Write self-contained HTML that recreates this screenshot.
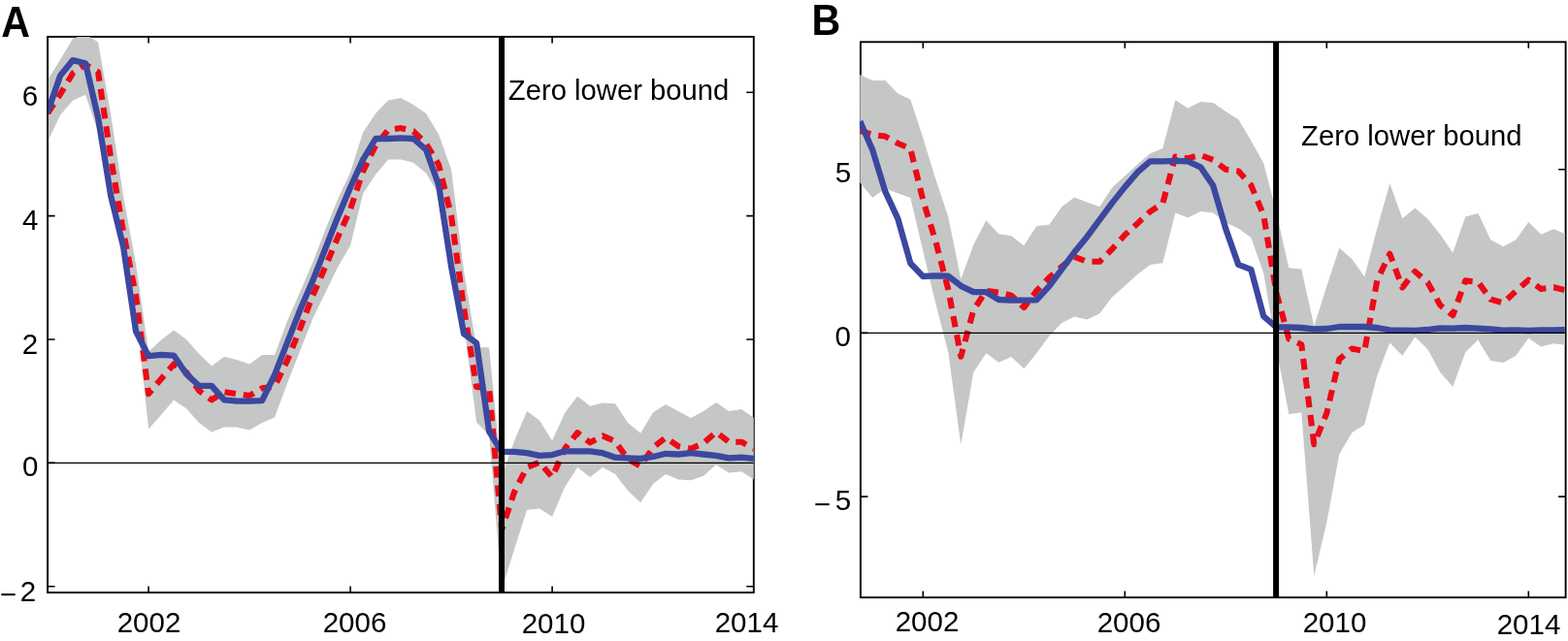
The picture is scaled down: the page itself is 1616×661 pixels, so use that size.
<!DOCTYPE html>
<html><head><meta charset="utf-8"><title>Figure</title>
<style>html,body{margin:0;padding:0;background:#fff;}body{width:1616px;height:661px;overflow:hidden;}svg{display:block;}</style>
</head><body>
<svg width="1616" height="661" viewBox="0 0 1616 661">
<defs><clipPath id="ca"><rect x="49.9" y="37.9" width="726.9" height="573.1"/></clipPath><clipPath id="cb"><rect x="885.9" y="43.3" width="726.9" height="572.8"/></clipPath></defs>
<rect width="1616" height="661" fill="#fff"/>
<rect x="49.1" y="37.9" width="727.7" height="573.1" fill="none" stroke="#000" stroke-width="1.9"/>
<path d="M49.1 604.8h7.5M776.8 604.8h-7.5M49.1 477.4h7.5M776.8 477.4h-7.5M49.1 350h7.5M776.8 350h-7.5M49.1 222.6h7.5M776.8 222.6h-7.5M49.1 95.2h7.5M776.8 95.2h-7.5M153.1 611v-6.5M153.1 37.9v6.5M361.1 611v-6.5M361.1 37.9v6.5M569.1 611v-6.5M569.1 37.9v6.5" stroke="#000" stroke-width="1.6" fill="none"/>
<g clip-path="url(#ca)">
<polygon points="49.1,82.5 62.1,61.4 75.1,39.8 88.1,35.3 101.1,43.6 114.1,117.5 127.1,202.2 140.1,272.3 153.1,362.7 166.1,350.6 179.1,340.4 192.1,350 205.1,364.7 218.1,377.4 231.1,367.8 244.1,371 257.1,375.5 270.1,365.9 283.1,365.9 296.1,330.9 309.1,301.6 322.1,271 335.1,237.3 348.1,205.4 361.1,177.4 374.1,136.6 387.1,116.9 400.1,103.5 413.1,100.9 426.1,107.9 439.1,116.9 452.1,138.5 465.1,174.8 478.1,279.9 491.1,358.3 504.1,358.3 517.1,491.4 530.1,454.5 543.1,423.9 556.1,433.4 569.1,454.5 582.1,425.8 595.1,408.6 608.1,418.8 621.1,415.6 634.1,416.2 647.1,436 660.1,446.8 673.1,425.2 686.1,416.9 699.1,423.9 712.1,430.9 725.1,423.9 738.1,415 751.1,423.9 764.1,422 777.1,430.9 777.1,494.6 764.1,486.3 751.1,487.6 738.1,479.3 725.1,490.8 712.1,495.2 699.1,494.6 686.1,488.9 673.1,499.1 660.1,518.2 647.1,506.1 634.1,488.9 621.1,481.9 608.1,492.1 595.1,481.9 582.1,502.2 569.1,532.8 556.1,524.5 543.1,525.8 530.1,566.6 517.1,608 504.1,448.7 491.1,435.4 478.1,334.7 465.1,270.4 452.1,200.3 439.1,178.6 426.1,167.8 413.1,164.6 400.1,164.6 387.1,179.9 374.1,199.7 361.1,253.2 348.1,275.5 335.1,302.2 322.1,329 309.1,362.1 296.1,395.2 283.1,430.3 270.1,436 257.1,443.6 244.1,440.5 231.1,440.5 218.1,445.5 205.1,436 192.1,421.3 179.1,412.4 166.1,427.7 153.1,442.4 140.1,319.4 127.1,251.3 114.1,193.9 101.1,136 88.1,97.7 75.1,103.5 62.1,118.8 49.1,146.2" fill="#c5c7c6"/>
<polyline points="49.1,116.9 62.1,97.1 75.1,75.5 88.1,66.5 101.1,74.2 114.1,162.1 127.1,239.2 140.1,305.4 153.1,406.1 166.1,390.8 179.1,375.5 192.1,383.8 205.1,402.9 218.1,412.4 231.1,404.1 244.1,406.1 257.1,408 270.1,400.3 283.1,398.4 296.1,371.7 309.1,339.2 322.1,305.4 335.1,275.5 348.1,244.9 361.1,215.6 374.1,176.7 387.1,150 400.1,134.1 413.1,132.1 426.1,135.3 439.1,148.1 452.1,169.7 465.1,222.6 478.1,318.1 491.1,399 504.1,400.3 517.1,546.2 530.1,507.3 543.1,481.9 556.1,476.8 569.1,492.1 582.1,462.7 595.1,446.2 608.1,456.4 621.1,449.4 634.1,455.1 647.1,473.6 660.1,480.6 673.1,461.5 686.1,451.3 699.1,460.2 712.1,462.7 725.1,457 738.1,445.5 751.1,455.7 764.1,455.7 777.1,462.7" fill="none" stroke="#ec0a17" stroke-width="6.1" stroke-dasharray="11.5 8" stroke-linejoin="round"/>
<polyline points="49.1,115.6 62.1,78 75.1,62.1 88.1,65.3 101.1,121.3 114.1,201.6 127.1,254.4 140.1,341.7 153.1,367.2 166.1,365.9 179.1,366.6 192.1,385.7 205.1,397.8 218.1,397.8 231.1,412.4 244.1,413.7 257.1,413.7 270.1,413.1 283.1,386.3 296.1,353.2 309.1,320.1 322.1,290.1 335.1,257 348.1,223.9 361.1,193.3 374.1,164.6 387.1,143 400.1,143 413.1,142.3 426.1,143 439.1,154.4 452.1,190.7 465.1,274.8 478.1,344.3 491.1,353.8 504.1,444.9 517.1,465.9 530.1,465.9 543.1,467.2 556.1,469.8 569.1,469.1 582.1,465.3 595.1,465.3 608.1,465.3 621.1,467.2 634.1,471.7 647.1,472.3 660.1,472.9 673.1,471 686.1,467.8 699.1,468.5 712.1,467.2 725.1,468.5 738.1,469.8 751.1,472.3 764.1,471.7 777.1,472.9" fill="none" stroke="#3c479f" stroke-width="6.3" stroke-linejoin="round"/>
<path d="M49.1 477.4H776.8" stroke="#000" stroke-width="1.1"/>
</g>
<rect x="514" y="37.9" width="6" height="573.1" fill="#000"/>
<rect x="886.9" y="43.3" width="726.7" height="572.8" fill="none" stroke="#000" stroke-width="1.9"/>
<path d="M886.9 512.1h7.5M1613.6 512.1h-7.5M886.9 343.4h7.5M1613.6 343.4h-7.5M886.9 174.7h7.5M1613.6 174.7h-7.5M951.3 616.1v-6.5M951.3 43.3v6.5M1159.3 616.1v-6.5M1159.3 43.3v6.5M1367.3 616.1v-6.5M1367.3 43.3v6.5M1575.3 616.1v-6.5M1575.3 43.3v6.5" stroke="#000" stroke-width="1.6" fill="none"/>
<g clip-path="url(#cb)">
<polygon points="886.3,76.9 899.3,82.9 912.3,82.9 925.3,96.4 938.3,102.5 951.3,142.3 964.3,184.8 977.3,223.6 990.3,287.7 1003.3,252.6 1016.3,227.3 1029.3,241.2 1042.3,243.2 1055.3,253.3 1068.3,233.1 1081.3,231.7 1094.3,213.2 1107.3,203.4 1120.3,208.4 1133.3,213.2 1146.3,193.3 1159.3,181.4 1172.3,169.6 1185.3,158.2 1198.3,153.1 1211.3,103.2 1224.3,111.6 1237.3,104.9 1250.3,105.9 1263.3,115 1276.3,123.1 1289.3,145 1302.3,168.3 1315.3,218.6 1328.3,276.3 1341.3,277.6 1354.3,336.3 1367.3,295.2 1380.3,255.7 1393.3,267.1 1406.3,285.4 1419.3,235.4 1432.3,189.2 1445.3,225.3 1458.3,214.5 1471.3,225.6 1484.3,241.8 1497.3,260.7 1510.3,223.6 1523.3,219.9 1536.3,247.2 1549.3,254.3 1562.3,247.2 1575.3,229 1588.3,241.8 1601.3,236.1 1614.3,241.8 1614.3,355.9 1601.3,354.2 1588.3,357.6 1575.3,348.8 1562.3,366.7 1549.3,374.1 1536.3,372.1 1523.3,350.5 1510.3,363.3 1497.3,398.7 1484.3,383.9 1471.3,359.9 1458.3,347.4 1445.3,366.7 1432.3,353.5 1419.3,387.3 1406.3,437.9 1393.3,446.3 1380.3,468.2 1367.3,539.1 1354.3,593.8 1341.3,425.4 1328.3,427.1 1315.3,358.6 1302.3,281.7 1289.3,244.9 1276.3,235.4 1263.3,229.7 1250.3,219.6 1237.3,217.9 1224.3,224.6 1211.3,219.6 1198.3,271.2 1185.3,272.9 1172.3,283 1159.3,294.8 1146.3,306.3 1133.3,323.2 1120.3,329.6 1107.3,326.5 1094.3,332.9 1081.3,346.4 1068.3,364.3 1055.3,380.2 1042.3,368 1029.3,373.8 1016.3,364.3 1003.3,383.9 990.3,458.8 977.3,363.6 964.3,313 951.3,259 938.3,204.1 925.3,199.3 912.3,194.6 899.3,204.1 886.3,188.2" fill="#c5c7c6"/>
<polyline points="886.3,134.9 899.3,138.9 912.3,140.6 925.3,147.7 938.3,153.4 951.3,206.4 964.3,248.9 977.3,298.5 990.3,367.7 1003.3,319.8 1016.3,299.9 1029.3,301.6 1042.3,304.6 1055.3,317.1 1068.3,299.9 1081.3,286.4 1094.3,274.9 1107.3,264.8 1120.3,269.8 1133.3,269.8 1146.3,256.7 1159.3,242.2 1172.3,230.4 1185.3,218.2 1198.3,209.8 1211.3,161.5 1224.3,163.2 1237.3,159.9 1250.3,164.9 1263.3,174.7 1276.3,176.4 1289.3,190.9 1302.3,221.9 1315.3,301.2 1328.3,349.5 1341.3,355.2 1354.3,458.1 1367.3,426.1 1380.3,370.4 1393.3,359.6 1406.3,362 1419.3,289.1 1432.3,261.7 1445.3,296.5 1458.3,280 1471.3,291.1 1484.3,314.7 1497.3,325.2 1510.3,289.4 1523.3,290.8 1536.3,308.6 1549.3,312.4 1562.3,300.2 1575.3,288.7 1588.3,297.9 1601.3,296.2 1614.3,299.5" fill="none" stroke="#ec0a17" stroke-width="6.1" stroke-dasharray="11.5 8" stroke-linejoin="round"/>
<polyline points="886.3,125.1 899.3,154.8 912.3,197.3 925.3,225.3 938.3,271.5 951.3,285 964.3,284.4 977.3,284.7 990.3,294.8 1003.3,301.2 1016.3,301.2 1029.3,309 1042.3,309.7 1055.3,309.7 1068.3,309.3 1081.3,295.2 1094.3,277.6 1107.3,260.1 1120.3,244.2 1133.3,226.7 1146.3,209.1 1159.3,192.9 1172.3,177.7 1185.3,166.3 1198.3,166.3 1211.3,165.9 1224.3,166.3 1237.3,172.3 1250.3,191.6 1263.3,236.1 1276.3,272.9 1289.3,277.9 1302.3,326.2 1315.3,337.3 1328.3,337.3 1341.3,338 1354.3,339.4 1367.3,339 1380.3,337 1393.3,337 1406.3,337 1419.3,338 1432.3,340.4 1445.3,340.7 1458.3,341 1471.3,340 1484.3,338.3 1497.3,338.7 1510.3,338 1523.3,338.7 1536.3,339.4 1549.3,340.7 1562.3,340.4 1575.3,341 1588.3,340.4 1601.3,340.4 1614.3,340" fill="none" stroke="#3c479f" stroke-width="6.3" stroke-linejoin="round"/>
<path d="M886.9 343.4H1613.6" stroke="#000" stroke-width="1.1"/>
</g>
<rect x="1312.1" y="43.3" width="6" height="572.8" fill="#000"/>
<g font-family="Liberation Sans, Arial, Helvetica, sans-serif" font-size="29.5" fill="#000">
<text x="22.7" y="109.4">6</text>
<text x="22.9" y="236.7">4</text>
<text x="22.7" y="364.7">2</text>
<text x="22.9" y="491.3">0</text>
<text y="619.7"><tspan x="-0.3" dy="3.3">&#8722;</tspan><tspan x="20.7" dy="-3.3">2</tspan></text>
<text x="120.7" y="652">2002</text>
<text x="332.7" y="652">2006</text>
<text x="537.7" y="652.6">2010</text>
<text x="736.7" y="652">2014</text>
<text x="860.8" y="188.3">5</text>
<text x="860.5" y="357.3">0</text>
<text y="526.2"><tspan x="838.8" dy="3.3">&#8722;</tspan><tspan x="860.8" dy="-3.3">5</tspan></text>
<text x="922.7" y="650.8">2002</text>
<text x="1130.7" y="651.7">2006</text>
<text x="1342.7" y="651.7">2010</text>
<text x="1542.7" y="653.6">2014</text>
</g>
<g font-family="Liberation Sans, Arial, Helvetica, sans-serif" font-size="30" fill="#000" transform="scale(0.975,1)">
<text x="537.3" y="102.8">Zero lower bound</text>
<text x="1375.5" y="149.8">Zero lower bound</text>
</g>
<g font-family="Liberation Sans, Arial, Helvetica, sans-serif" font-size="45" font-weight="bold" fill="#000" transform="scale(0.915,1)">
<text x="1.5" y="37.9">A</text>
<text x="914.3" y="35.6">B</text>
</g>
</svg>
</body></html>
